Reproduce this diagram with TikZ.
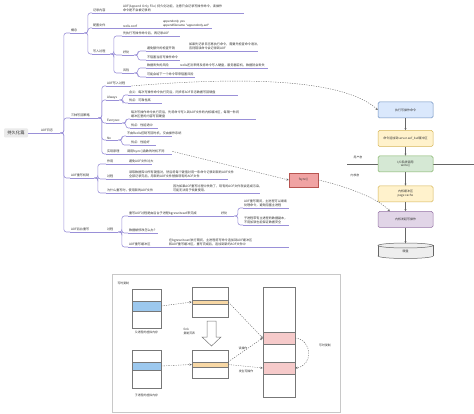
\documentclass[tikz,border=0pt]{standalone}
\usepackage{fontspec}
\setmainfont{Noto Sans CJK SC}
\newfontfamily\latinf{Liberation Sans}
\usetikzlibrary{arrows.meta}
\definecolor{mmc}{HTML}{9A90D8}
\definecolor{txt}{HTML}{333333}
\definecolor{bluef}{HTML}{DAE8FC}\definecolor{bluel}{HTML}{6C8EBF}
\definecolor{yelf}{HTML}{FFF2CC}\definecolor{yell}{HTML}{D6B656}
\definecolor{grnf}{HTML}{D5E8D4}\definecolor{grnl}{HTML}{82B366}
\definecolor{purf}{HTML}{E1D5E7}\definecolor{purl}{HTML}{9673A6}
\definecolor{pinkf}{HTML}{F0A3A3}\definecolor{pinkl}{HTML}{B85450}
\definecolor{diskf}{HTML}{EEEEEE}\definecolor{diskl}{HTML}{666666}
\definecolor{frm}{HTML}{C8C8C8}
\definecolor{memb}{HTML}{9CC8EE}
\definecolor{memo}{HTML}{F7D7A4}
\definecolor{memp}{HTML}{F6CACA}
\definecolor{meml}{HTML}{777777}
\newcommand\mmf{\fontsize{3.1}{4.4}\selectfont}
\newcommand\mm[5]{\pgfmathsetmacro\mmw{#4-#2-1.6}\node[mmn,text width=\mmw pt] (#1) at (#2,#3) {#5};\draw[mml] (#1.south west) -- (#1.south east);}
\newcommand\mmlink[2]{\draw[mml,rounded corners=2.5pt] (#1.south east) -- ++(3.5,0) |- (#2.south west);}
\newcommand\mmcont[2]{\draw[mml] (#1.south east) -- (#2.south west);}
\begin{document}
\begin{tikzpicture}[x=1pt,y=-1pt,
 mmn/.style={anchor=south west, inner xsep=0.8pt, inner ysep=0.7pt, align=left, font=\mmf, text=txt},
 mml/.style={draw=mmc, line width=0.6pt},
 fb/.style={draw, rounded corners=1.5pt, minimum width=55, minimum height=16, inner sep=0.5pt, font=\fontsize{3}{3.8}\selectfont, align=center, text=txt, line width=0.5pt},
 arr/.style={draw=diskl, line width=0.4pt, -{Stealth[length=2.2pt,width=2pt]}},
 dsh/.style={draw=diskl, line width=0.4pt, dash pattern=on 1.2pt off 1.2pt, -{Stealth[length=2.4pt,width=2.2pt]}},
 lab/.style={font=\fontsize{2.9}{3.6}\selectfont, text=txt, inner sep=0.3pt, align=left},
 mem/.style={draw=meml, line width=0.5pt, fill=white, inner sep=0},
]
\useasboundingbox (0,0) rectangle (474,414);
\fill[white] (0,0) rectangle (474,414);

% ---------- mind map ----------
\node[fill=black!8, rounded corners=1pt, minimum width=24, minimum height=9, inner sep=0.5pt, font=\fontsize{4.3}{5}\selectfont, text=txt] (root) at (16,133) {持久化篇};
\mm{aof}{40}{133}{60}{AOF日志}
\draw[mml] (root.east) -- (aof.south west);

\mm{gn}{70}{33}{84}{概念}
\mm{sz}{70}{118}{98}{三种写回策略}
\mm{cx}{70}{178}{94}{AOF重写机制}
\mm{ht}{70}{232}{94}{AOF后台重写}
\mmlink{aof}{gn}\mmlink{aof}{sz}\mmlink{aof}{cx}\mmlink{aof}{ht}

% 概念
\mm{jl}{92}{13}{120}{记录内容}
\mm{jlt}{122}{13}{244}{\mbox{AOF(Append Only File) 持久化功能，注意只会记录写操作命令，读操作}\\命令是不会被记录的}
\mm{pz}{92}{28}{120}{配置文件}
\mm{pzt}{122}{28}{160}{redis.conf}
\mm{pzt2}{162}{28}{212}{\latinf\mbox{appendonly yes}\\\mbox{appendfilename "appendonly.aof"}}
\mm{xr}{92}{54}{110}{写入过程}
\mmlink{gn}{jl}\mmlink{gn}{pz}\mmlink{gn}{xr}
\mmcont{jl}{jlt}\mmcont{pz}{pzt}\mmcont{pzt}{pzt2}

\mm{xr1}{122}{36}{180}{先执行写操作命令后，再记录AOF}
\mm{hc}{122}{55}{134}{好处}
\mm{fx}{122}{73}{134}{风险}
\mmlink{xr}{xr1}\mmlink{xr}{hc}\mmlink{xr}{fx}
\mm{hc1}{146}{51}{186}{避免额外的检查开销}
\mm{hc1t}{188}{51}{258}{如果先记录日志再执行命令，需要先检查命令语法，\\否则错误命令会记录到AOF}
\mm{hc2}{146}{60}{180}{不阻塞当前写操作命令}
\mmlink{hc}{hc1}\mmlink{hc}{hc2}\mmcont{hc1}{hc1t}
\mm{fx1}{146}{68}{177}{数据丢失的风险}
\mm{fx1t}{179}{68}{268}{redis还没来得及将命令写入硬盘，服务器宕机，数据就会丢失}
\mm{fx2}{146}{77}{195}{可能会给下一个命令带来阻塞风险}
\mmlink{fx}{fx1}\mmlink{fx}{fx2}\mmcont{fx1}{fx1t}

% 三种写回策略
\mm{aw}{106}{86}{131}{AOF写入过程}
\mm{al}{106}{100}{119}{Always}
\mm{es}{106}{123}{122}{Everysec}
\mm{no}{106}{140}{118}{No}
\mm{sl}{106}{154}{124}{实现原理}
\mmlink{sz}{aw}\mmlink{sz}{al}\mmlink{sz}{es}\mmlink{sz}{no}\mmlink{sz}{sl}
\mm{al1}{128}{95}{238}{含义：每次写操作命令执行完后，同步将AOF日志数据写回硬盘}
\mm{al2}{128}{103}{162}{优点：可靠性高}
\mmlink{al}{al1}\mmlink{al}{al2}
\mm{es1}{130}{119}{256}{每次写操作命令执行完后，先将命令写入到AOF文件的内核缓冲区，每隔一秒将\\缓冲区里的内容写回硬盘}
\mm{es2}{130}{128}{158}{优点：性能适中}
\mmlink{es}{es1}\mmlink{es}{es2}
\mm{no1}{126}{136}{172}{不由Redis控制写回时机，交由操作系统}
\mm{no2}{130}{145}{156}{优点：性能好}
\mmlink{no}{no1}\mmlink{no}{no2}
\mm{sl1}{126}{154}{172}{调用fsync()函数的时机不同}
\mmcont{sl}{sl1}

% AOF重写机制
\mm{zy}{106}{164}{118}{作用}
\mm{gc}{106}{179}{118}{过程}
\mm{ws}{106}{193}{160}{为什么重写时，使用新的AOF文件}
\mmlink{cx}{zy}\mmlink{cx}{gc}\mmlink{cx}{ws}
\mm{zy1}{128}{164}{152}{避免AOF文件过大}
\mm{gc1}{128}{179}{228}{读取数据库中所有键值对，然后将每个键值对用一条命令记录到新的AOF文件\\全部记录完后，用新的AOF文件替换现有的AOF文件}
\mm{ws1}{172}{193}{260}{因为如果AOF重写过程中失败了，现有的AOF文件就会造成污染，\\可能无法用于恢复使用。}
\mmcont{zy}{zy1}\mmcont{gc}{gc1}\mmcont{ws}{ws1}

% AOF后台重写
\mm{gc2}{106}{232}{118}{过程}
\mmcont{ht}{gc2}
\mm{h1}{128}{216}{218}{重写AOF过程是由后台子进程bgrewriteaof来完成}
\mm{h2}{128}{233}{158}{数据被修改怎么办？}
\mm{h3}{128}{247}{162}{AOF重写缓冲区}
\mmlink{gc2}{h1}\mmlink{gc2}{h2}\mmlink{gc2}{h3}
\mm{h1h}{220}{216}{234}{好处}
\mmcont{h1}{h1h}
\mm{hh1}{243}{208}{289}{AOF重写期间，主进程可以继续\\处理命令，避免阻塞主进程}
\mm{hh2}{243}{225}{289}{子进程带有主进程的数据副本，\\不用加锁也能保证数据安全}
\mmlink{h1h}{hh1}\mmlink{h1h}{hh2}
\mm{h3t}{168}{247}{289}{在bgrewriteaof执行期间，主进程将写命令追加到AOF缓冲区\\和AOF重写缓冲区，重写完成后，追加到新的AOF文件中}
\mmcont{h3}{h3t}

% ---------- right column ----------
\draw[diskl, line width=0.5pt] (347,164) -- (474,164);
\node[lab] (uk) at (358,157) {用户态};
\node[lab] (kk) at (355,175) {内核态};
\node[fb, fill=bluef, draw=bluel] (b1) at (405.5,110) {执行写操作命令};
\node[fb, fill=yelf, draw=yell] (b2) at (405.5,138.5) {命令追加到server.aof\_buf缓冲区};
\node[fb, fill=grnf, draw=grnl] (b3) at (405.5,164) {I/O系统调用\\write()};
\node[fb, fill=yelf, draw=yell] (b4) at (405.5,194) {内核缓冲区\\page cache};
\node[fb, fill=purf, draw=purl] (b5) at (405.5,219.5) {内核发起写操作};
% disk cylinder
\filldraw[fill=diskf, draw=diskl, line width=0.5pt] (405.5,256) ellipse [x radius=27.5, y radius=2.5];
\fill[diskf] (378,245.5) rectangle (433,256);
\draw[diskl, line width=0.5pt] (378,245.5) -- (378,256) (433,245.5) -- (433,256);
\filldraw[fill=diskf, draw=diskl, line width=0.5pt] (405.5,245.5) ellipse [x radius=27.5, y radius=2.5];
\node[minimum width=55, minimum height=16, inner sep=0, font=\fontsize{3}{3.8}\selectfont, text=txt] (b6) at (405.5,251.5) {硬盘};
\draw[arr] (b1) -- (b2);
\draw[arr] (b2) -- (b3);
\draw[arr] (b3) -- (b4);
\draw[arr] (b4) -- (b5);
\draw[arr] (b5) -- (b6);

\node[draw=pinkl, fill=pinkf, minimum width=29, minimum height=14, inner sep=0, font=\fontsize{3}{3.8}\selectfont, text=txt, line width=0.5pt] (fs) at (303.5,180) {fsync()};
\draw[dsh] (aw.south east) .. controls (250,76) and (345,80) .. (b1.west);
\draw[dsh] (sl1.east) -- (fs.west);
\draw[dsh] (fs.east) .. controls (345,186) and (378,198) .. ([xshift=12pt]b5.north west);

% ---------- bottom diagram ----------
\node[draw=frm, line width=1.2pt, minimum width=228, minimum height=138, anchor=north west, inner sep=0] (fr) at (112,274) {};
\node[lab, anchor=west] (frl) at (117,283) {写时复制};

\node[mem, minimum width=29, minimum height=39] (pv) at (146.5,308.5) {};
\node[mem, fill=memb, minimum width=29, minimum height=10] (pvb) at (146.5,306) {};
\node[lab] (pvl) at (146.5,332) {父进程的虚拟内存};
\node[mem, minimum width=29, minimum height=38] (cv) at (146.5,369) {};
\node[mem, fill=memb, minimum width=29, minimum height=8] (cvb) at (146.5,366) {};
\node[lab] (cvl) at (146.5,395) {子进程的虚拟内存};

\node[mem, minimum width=36, minimum height=30] (pt1) at (210,302) {};
\node[mem, fill=memo, minimum width=36, minimum height=4] (pt1b) at (210,302) {};
\node[mem, minimum width=36, minimum height=28] (pt2) at (210,364) {};
\node[mem, fill=memo, minimum width=36, minimum height=5] (pt2b) at (210,364.5) {};

\draw[meml, line width=0.5pt, fill=white] (207,321) -- (216,321) -- (216,337) -- (221,337) -- (211.5,346) -- (202,337) -- (207,337) -- cycle;
\node[lab, anchor=west] (fkl) at (183,331.5) {fork\\复制页表};

\node[mem, minimum width=32, minimum height=110] (pm) at (279,342) {};
\node[mem, fill=memp, minimum width=32, minimum height=12] (pmb1) at (279,338) {};
\node[mem, fill=memp, minimum width=32, minimum height=12] (pmb2) at (279,368) {};

\draw[dsh] (pvb.east) -- (pt1b.west);
\draw[dsh] (cvb.east) -- (pt2b.west);
\draw[dsh] (pt1b.east) -- (pmb1.west);
\draw[dsh] (pt2b.north east) -- (pmb1.west);
\draw[dsh] (pt2b.east) -- (pmb2.west);
\draw[dsh] (pmb1.east) .. controls (313,340) and (313,366) .. (pmb2.east);
\node[lab] (rl) at (243,348) {读操作};
\node[lab] (wl) at (246,371) {发生写操作};
\node[lab] (cl) at (325,345) {写时复制};
\end{tikzpicture}
\end{document}
